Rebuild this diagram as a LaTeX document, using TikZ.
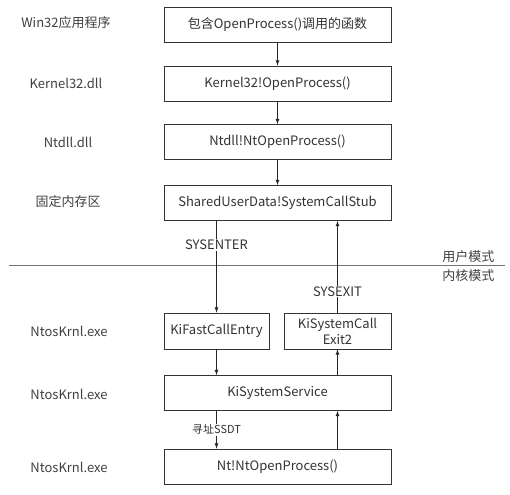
\documentclass[tikz,border=0pt]{standalone}
\usepackage{fontspec}
\setmainfont{Noto Sans CJK SC}

\begin{document}
\begin{tikzpicture}[x=1pt,y=-1pt,
    box/.style ={draw=black!80, line width=0.8pt, text=black!80,
                 minimum width=227pt, minimum height=35pt, inner sep=0pt,
                 font=\fontsize{13}{16}\selectfont},
    smallbox/.style ={box, minimum width=105pt, minimum height=36pt, align=center},
    layer/.style ={text=black!75, font=\fontsize{13}{16}\selectfont},
    call/.style ={draw=black!85, line width=0.8pt, -latex},
    via/.style ={fill=white, inner sep=1pt, text=black!80, font=\fontsize{13}{15}\selectfont}]
   \useasboundingbox (0,0) rectangle (510,494);

   % user mode
   \node[box] (app)    at (277.5,24.5) {包含OpenProcess()调用的函数};
   \node[box] (k32)    at (277.5,83.5) {Kernel32!OpenProcess()};
   \node[box] (ntdll)  at (277.5,142)  {Ntdll!NtOpenProcess()};
   \node[box] (stub)   at (277.5,203)  {SharedUserData!SystemCallStub};

   % kernel mode
   \node[smallbox, minimum width=105pt] (entry) at (216.5,331) {KiFastCallEntry};
   \node[smallbox, minimum width=107pt] (exit)  at (337.5,331) {KiSystemCall\\Exit2};
   \node[box] (service) at (277.5,393)  {KiSystemService};
   \node[box] (nt)      at (277.5,466.5) {Nt!NtOpenProcess()};

   \node[layer] (L1) at (66,23)  {Win32应用程序};
   \node[layer] (L2) at (66,83)  {Kernel32.dll};
   \node[layer] (L3) at (68,142) {Ntdll.dll};
   \node[layer] (L4) at (68,202) {固定内存区};
   \node[layer] (L5) at (69,331) {NtosKrnl.exe};
   \node[layer] (L6) at (69,394) {NtosKrnl.exe};
   \node[layer] (L7) at (69,467) {NtosKrnl.exe};

   \coordinate (sepL) at (9,265);
   \coordinate (sepR) at (505,265);
   \draw[black!55, line width=0.6pt] (sepL) -- (sepR);
   \node[layer, anchor=south east] (user)   at (498,266) {用户模式};
   \node[layer, anchor=north east] (kernel) at (498,266) {内核模式};

   \draw[call] (app) to (k32);
   \draw[call] (k32) to (ntdll);
   \draw[call] (ntdll) to (stub);
   \draw[call] (stub.south -| entry.north) to node[via, pos=0.26] {SYSENTER} (entry.north);
   \draw[call] (exit.north) to node[via, pos=0.23] {SYSEXIT} (stub.south -| exit.north);
   \draw[call] (entry) to (service.north -| entry.south);
   \draw[call] (service.north -| exit.south) to (exit);
   \draw[call] (service.south -| entry.south) to node[via, font=\fontsize{11}{13}\selectfont] {寻址SSDT} (nt.north -| entry.south);
   \draw[call] (nt.north -| exit.south) to (service.south -| exit.south);
 \end{tikzpicture}
\end{document}
